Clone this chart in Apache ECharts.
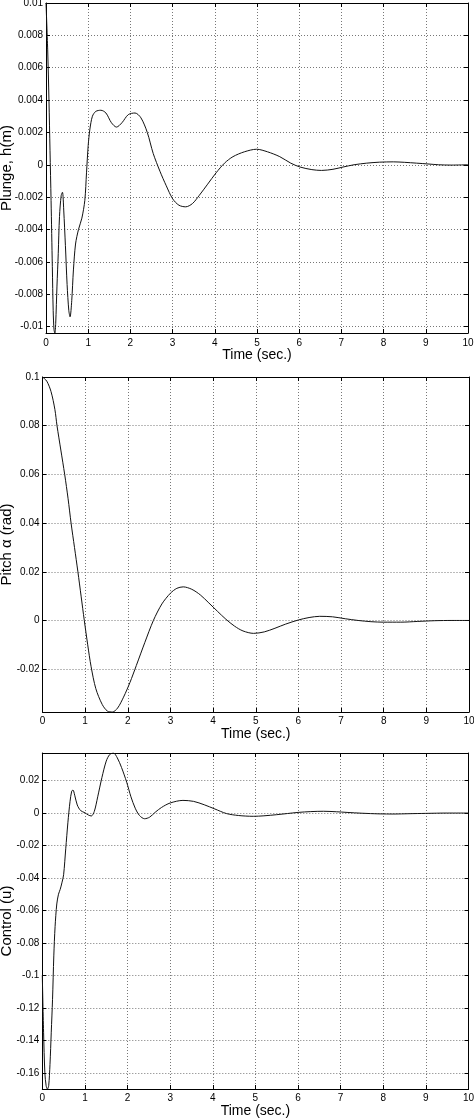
<!DOCTYPE html>
<html>
<head>
<meta charset="utf-8">
<script src="https://cdn.jsdelivr.net/npm/echarts@6/dist/echarts.min.js"></script>
<style>
  html, body { margin: 0; padding: 0; background: #fff; }
  #chart { width: 474px; height: 1119px; }
</style>
</head>
<body>
<div id="chart"></div>
<script>
// time samples (sec.) and responses
const tPlunge = [0, 0.04, 0.07, 0.095, 0.12, 0.15, 0.17, 0.19, 0.21, 0.23, 0.26, 0.29, 0.32, 0.36, 0.39,
  0.42, 0.46, 0.50, 0.54, 0.57, 0.61, 0.65, 0.70, 0.77, 0.85, 0.92, 0.96, 1.00, 1.04, 1.10, 1.18, 1.30,
  1.42, 1.55, 1.67, 1.80, 1.95, 2.11, 2.25, 2.40, 2.54, 2.70, 2.85, 3.0, 3.15, 3.31, 3.47, 3.63, 3.83,
  4.03, 4.23, 4.43, 4.7, 4.99, 5.25, 5.54, 5.8, 6.02, 6.3, 6.53, 6.8, 7.04, 7.3, 7.6, 7.9, 8.23, 8.5,
  8.78, 9.05, 9.3, 9.6, 10];
const hPlunge = [0.0100, 0.0071, 0.0040, 0.0009, -0.0022, -0.0063, -0.0090, -0.0102, -0.0104, -0.0098,
  -0.0075, -0.0055, -0.0032, -0.0019, -0.0017, -0.0028, -0.0050, -0.0074, -0.0090, -0.0094, -0.0084,
  -0.0065, -0.0049, -0.0040, -0.0033, -0.0022, -0.0005, 0.0012, 0.0022, 0.0030, 0.0033, 0.00337,
  0.0032, 0.0026, 0.00233, 0.0026, 0.0031, 0.0032, 0.0029, 0.0020, 0.0007, -0.0004, -0.0013, -0.0021,
  -0.0025, -0.0026, -0.0024, -0.0019, -0.0012, -0.0005, 0.0001, 0.0005, 0.0008, 0.00096, 0.0008,
  0.0005, 0.0001, -0.00014, -0.0003, -0.00035, -0.00028, -0.00014, 0.0, 0.0001, 0.00016, 0.00018,
  0.00015, 0.0001, 0.00005, 0.0, -0.00002, 0.0];

const tPitch = [0, 0.1, 0.2, 0.29, 0.34, 0.43, 0.52, 0.6, 0.67, 0.75, 0.83, 0.905, 0.98, 1.06, 1.14,
  1.25, 1.4, 1.52, 1.64, 1.76, 1.9, 2.05, 2.2, 2.4, 2.6, 2.8, 3.0, 3.15, 3.3, 3.5, 3.7, 3.9, 4.1, 4.3,
  4.5, 4.7, 4.95, 5.2, 5.45, 5.7, 6.0, 6.25, 6.5, 6.8, 7.1, 7.4, 7.7, 8.0, 8.4, 8.8, 9.2, 9.6, 10];
const aPitch = [0.1, 0.0983, 0.0940, 0.0867, 0.080, 0.070, 0.060, 0.050, 0.040, 0.030, 0.020, 0.010,
  0.0, -0.010, -0.019, -0.028, -0.0345, -0.0372, -0.0376, -0.036, -0.0315, -0.0255, -0.0185, -0.009,
  0.0, 0.0068, 0.0112, 0.0132, 0.0138, 0.0128, 0.0105, 0.0072, 0.0038, 0.0005, -0.0023, -0.0043,
  -0.0053, -0.0047, -0.0032, -0.0015, 0.0002, 0.0012, 0.0017, 0.0015, 0.0007, 0.0, -0.0005, -0.0007,
  -0.0007, -0.0004, -0.0001, 0.0, 0.0];

const tControl = [0, 0.03, 0.06, 0.09, 0.12, 0.15, 0.18, 0.21, 0.24, 0.27, 0.30, 0.34, 0.38, 0.42,
  0.46, 0.50, 0.55, 0.60, 0.65, 0.69, 0.72, 0.76, 0.82, 0.9, 1.0, 1.08, 1.15, 1.22, 1.3, 1.4, 1.5,
  1.58, 1.67, 1.76, 1.86, 1.98, 2.08, 2.18, 2.28, 2.4, 2.52, 2.65, 2.8, 3.0, 3.3, 3.55, 3.8, 4.05,
  4.32, 4.6, 4.95, 5.2, 5.5, 5.75, 6.0, 6.3, 6.6, 6.9, 7.15, 7.5, 7.9, 8.25, 8.6, 9.0, 9.5, 10];
const uControl = [-0.100, -0.135, -0.160, -0.168, -0.170, -0.168, -0.155, -0.135, -0.115, -0.088,
  -0.070, -0.056, -0.050, -0.047, -0.043, -0.038, -0.022, -0.006, 0.007, 0.0135, 0.0142, 0.011,
  0.005, 0.0015, 0.0002, -0.0012, -0.0018, 0.001, 0.010, 0.022, 0.032, 0.036, 0.037, 0.034, 0.028,
  0.019, 0.010, 0.003, -0.0015, -0.0035, -0.0025, 0.0005, 0.0035, 0.0062, 0.0078, 0.0072, 0.0051,
  0.0025, -0.0003, -0.0015, -0.0020, -0.0017, -0.0010, -0.0003, 0.0004, 0.0009, 0.0011, 0.0008,
  0.0004, -0.0001, -0.0005, -0.0006, -0.0004, -0.0002, 0.0, 0.0];

const yNames = ['Plunge, h(m)', 'Pitch \u03b1 (rad)', 'Control (u)'];
const xName = 'Time (sec.)';

function pairs(ts, vs) {
  return ts.map((t, i) => [t, vs[i]]);
}

const font = 'Liberation Sans, Arial, Helvetica, sans-serif';
const gridLine = { show: true, lineStyle: { color: '#777', width: 1, type: [1, 2] } };
const axisLine = { show: true, onZero: false, lineStyle: { color: '#000', width: 1 } };
const tick = { show: true, inside: true, length: 4, lineStyle: { color: '#000' } };

const grids = [
  { left: 46, top: 3, width: 422, height: 330 },
  { left: 42.5, top: 377, width: 426.5, height: 335 },
  { left: 42.3, top: 753, width: 426.2, height: 336 }
].map(g => Object.assign(g, { containLabel: false, outerBoundsMode: 'none' }));
const yRanges = [
  { min: -0.0104, max: 0.01, splitNumber: 10, showMax: true, gap: 32 },
  { min: -0.0376, max: 0.1, splitNumber: 7, showMax: true, gap: 28 },
  { min: -0.17, max: 0.037, splitNumber: 10, showMax: false, gap: 28 }
];
const labelMargins = [5, 4, 4];

const xAxes = [], yAxes = [];
grids.forEach((g, i) => {
  xAxes.push({
    type: 'value', gridIndex: i, min: 0, max: 10, interval: 1, position: 'bottom',
    name: xName, nameLocation: 'middle', nameGap: 15, nameMoveOverlap: false,
    nameTextStyle: { color: '#000', fontSize: 14, fontFamily: font },
    axisLine: axisLine, axisTick: tick, splitLine: gridLine,
    axisLabel: { color: '#000', fontSize: 10, fontFamily: font, margin: labelMargins[i] }
  });
  xAxes.push({
    type: 'value', gridIndex: i, min: 0, max: 10, interval: 1, position: 'top',
    axisLine: axisLine, axisTick: tick, splitLine: { show: false }, axisLabel: { show: false }
  });
  const r = yRanges[i];
  yAxes.push({
    type: 'value', gridIndex: i, min: r.min, max: r.max, splitNumber: r.splitNumber, position: 'left',
    name: yNames[i], nameLocation: 'middle', nameGap: r.gap, nameMoveOverlap: false,
    nameTextStyle: { color: '#000', fontSize: 15, fontFamily: font },
    axisLine: axisLine, axisTick: tick, splitLine: gridLine,
    axisLabel: { color: '#000', fontSize: 10, fontFamily: font, margin: 3,
      showMinLabel: false, showMaxLabel: r.showMax }
  });
  yAxes.push({
    type: 'value', gridIndex: i, min: r.min, max: r.max, splitNumber: r.splitNumber, position: 'right',
    axisLine: axisLine, axisTick: tick, splitLine: { show: false }, axisLabel: { show: false }
  });
});

const lineSeries = [pairs(tPlunge, hPlunge), pairs(tPitch, aPitch), pairs(tControl, uControl)]
  .map((d, i) => ({
    type: 'line', xAxisIndex: i * 2, yAxisIndex: i * 2, data: d,
    showSymbol: false, smooth: 0.3, clip: true,
    lineStyle: { color: '#111', width: 1 }
  }));

const chart = echarts.init(document.getElementById('chart'));
chart.setOption({
  backgroundColor: '#fff',
  animation: false,
  grid: grids,
  xAxis: xAxes,
  yAxis: yAxes,
  series: lineSeries
});
</script>
</body>
</html>
